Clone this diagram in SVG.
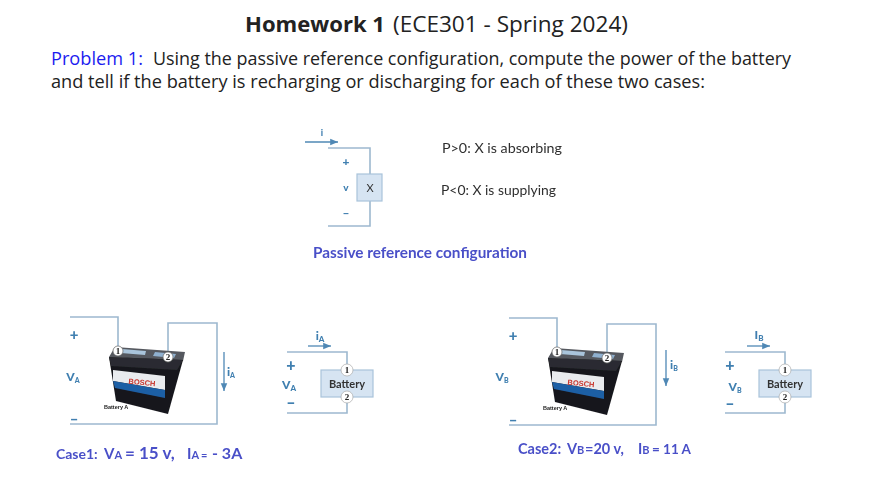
<svg xmlns="http://www.w3.org/2000/svg" width="872" height="487" viewBox="0 0 872 487">
<style>
.tex{font-family:"Open Sans","Liberation Sans",sans-serif;fill:#222}
.t1{font-size:22px}
.t2{font-size:18px}
.lab{font-family:Lato,"Open Sans",sans-serif;fill:#2f2f2f}
.case{font-family:Lato,"Open Sans",sans-serif;font-weight:700;fill:#4a50c8}
.wire{fill:none;stroke:#9db8cf;stroke-width:1.6}
.arr{fill:none;stroke:#4f88b5;stroke-width:1.3;marker-end:url(#ah)}
.sym{font-family:Lato,"Open Sans",sans-serif;font-weight:900;fill:#3f7fb0;text-anchor:middle}
.box{fill:#d6e4f2;stroke:#a9c3da;stroke-width:1.2}
.num{fill:#fff;stroke:#666;stroke-width:.7}
.numt{font-family:"Liberation Serif",serif;font-size:9px;font-weight:700;fill:#222;text-anchor:middle}
</style>
<defs>
<marker id="ah" markerWidth="7" markerHeight="6" refX="6" refY="3" orient="auto"><path d="M0,0.5 L6,3 L0,5.500 Z" fill="#4f88b5"/></marker>
<filter id="soft" x="-5%" y="-5%" width="110%" height="110%"><feGaussianBlur stdDeviation="0.4"/></filter>
<g id="bat">
<path d="M115,347 L185,352 L183,361 L109,357 Z" fill="#55585e"/>
<path d="M122,349 L146,351 L145,355 L121,353 Z" fill="#a9c4db"/>
<path d="M155,352 L176,354 L174,358 L153,356 Z" fill="#8fb0cf"/>
<path d="M109,357 L183,360 L168,414 L116,401 Z" fill="#17181c"/>
<path d="M109,357 L111,366 L177,370 L183,360 Z" fill="#2a2c30"/>
<path d="M113,370 L165,376 L165,390 L113,381 Z" fill="#e9ebee"/>
<path d="M113,381 L165,390 L165,398 L115,388 Z" fill="#1f5fa5"/>
<text x="142" y="385" transform="rotate(5 142 382)" font-family="Liberation Sans,sans-serif" font-size="7.500" font-weight="700" fill="#c8342c" text-anchor="middle">BOSCH</text>
<text x="104" y="409" font-family="Liberation Sans,sans-serif" font-size="5.500" font-weight="700" fill="#222">Battery A</text>
<circle class="num" cx="118" cy="351" r="5"/><text class="numt" x="118" y="354">1</text>
<circle class="num" cx="168" cy="357" r="5"/><text class="numt" x="168" y="360">2</text>
</g>
<g id="sch">
<path class="wire" d="M0,0 H60 V18 M60,45 V61 H0"/>
<rect class="box" x="34" y="18" width="52" height="27"/>
<circle class="num" cx="60" cy="18" r="6" style="stroke:#aaa"/><text class="numt" x="60" y="21">1</text>
<circle class="num" cx="60" cy="45" r="6" style="stroke:#aaa"/><text class="numt" x="60" y="48">2</text>
<text x="60" y="36" font-family="Lato,sans-serif" font-size="11" font-weight="700" fill="#333" text-anchor="middle">Battery</text>
</g>
</defs>

<g id="header">
<text class="tex t1" x="245" y="32" font-weight="700" textLength="140" lengthAdjust="spacingAndGlyphs">Homework 1</text>
<text class="tex t1" x="393" y="32" textLength="235" lengthAdjust="spacingAndGlyphs">(ECE301 - Spring 2024)</text>
<text class="tex t2" x="51" y="65" style="fill:#1c1cf0" textLength="92" lengthAdjust="spacingAndGlyphs">Problem 1:</text>
<text class="tex t2" x="153" y="65" textLength="638" lengthAdjust="spacingAndGlyphs">Using the passive reference configuration, compute the power of the battery</text>
<text class="tex t2" x="51" y="88" textLength="654" lengthAdjust="spacingAndGlyphs">and tell if the battery is recharging or discharging for each of these two cases:</text>
</g>

<g filter="url(#soft)">
<g id="connectors">
<path class="wire" d="M328,148 H370 V174 M370,201 V226 H328"/>
<path class="arr" d="M305,142 H338"/>
<path class="wire" d="M70,317 H118 V346 M168,352 V323 H217 V424 H70"/>
<path class="arr" d="M224,352 V391"/>
<path class="arr" d="M308,346 H331"/>
<path class="wire" d="M509,318 H557 V347 M607,353 V324 H656 V425 H509"/>
<path class="arr" d="M666,350 V386"/>
<path class="arr" d="M747,346 H770"/>
</g>

<g id="node-x">
<rect class="box" x="357" y="174" width="25" height="27"/>
<text x="370" y="192" font-family="Lato,sans-serif" font-size="11" fill="#333" text-anchor="middle">X</text>
<text class="sym" x="322" y="136" font-size="9">i</text>
<text class="sym" x="346" y="166" font-size="12">+</text>
<text class="sym" x="346" y="191" font-size="10">v</text>
<text class="sym" x="346" y="217" font-size="12">–</text>
</g>

<g id="rules">
<text class="lab" x="442" y="153" font-size="14" textLength="120" lengthAdjust="spacingAndGlyphs">P&gt;0:  X is absorbing</text>
<text class="lab" x="441" y="195" font-size="14" textLength="115" lengthAdjust="spacingAndGlyphs">P&lt;0: X is supplying</text>
<text class="case" x="313" y="258" font-size="15" textLength="214" lengthAdjust="spacingAndGlyphs">Passive reference configuration</text>
</g>

<g id="battery-a">
<use href="#bat"/>
<text class="sym" x="74" y="340" font-size="15">+</text>
<text class="sym" x="73" y="381" font-size="12">V<tspan font-size="7" dy="2">A</tspan></text>
<text class="sym" x="74" y="424" font-size="15">–</text>
<text class="sym" x="231" y="376" font-size="12">i<tspan font-size="7" dy="2">A</tspan></text>
</g>

<g id="schematic-a">
<use href="#sch" x="287" y="352"/>
<text class="sym" x="320" y="340" font-size="12">i<tspan font-size="8" dy="2">A</tspan></text>
<text class="sym" x="291" y="371" font-size="16">+</text>
<text class="sym" x="289" y="389" font-size="12">V<tspan font-size="8" dy="2">A</tspan></text>
<text class="sym" x="291" y="408" font-size="16">–</text>
</g>

<g id="case-1">
<text class="case" y="459" font-size="14"><tspan x="56">Case1:</tspan><tspan x="104" font-size="15">V</tspan><tspan font-size="11">A</tspan><tspan x="125" font-size="17">= 15 v,</tspan><tspan x="187" font-size="15">I</tspan><tspan font-size="11">A</tspan><tspan x="201" font-size="11">=</tspan><tspan x="212" font-size="16">- 3A</tspan></text>
</g>

<g id="battery-b">
<use href="#bat" x="439" y="1"/>
<text class="sym" x="513" y="341" font-size="15">+</text>
<text class="sym" x="502" y="381" font-size="12">V<tspan font-size="7" dy="2">B</tspan></text>
<text class="sym" x="513" y="425" font-size="15">–</text>
<text class="sym" x="674" y="369" font-size="12">i<tspan font-size="7" dy="2">B</tspan></text>
</g>

<g id="schematic-b">
<use href="#sch" x="725" y="352"/>
<text class="sym" x="759" y="339" font-size="12">I<tspan font-size="8" dy="2">B</tspan></text>
<text class="sym" x="730" y="371" font-size="16">+</text>
<text class="sym" x="735" y="391" font-size="12">V<tspan font-size="7" dy="2">B</tspan></text>
<text class="sym" x="730" y="409" font-size="16">–</text>
</g>

<g id="case-2">
<text class="case" y="454" font-size="14.500"><tspan x="518">Case2:</tspan><tspan x="567">V</tspan><tspan font-size="11">B</tspan><tspan x="585">=20 v,</tspan><tspan x="638">I</tspan><tspan font-size="11">B</tspan><tspan x="652" font-size="13.500">= 11 A</tspan></text>
</g>
</g>
</svg>
